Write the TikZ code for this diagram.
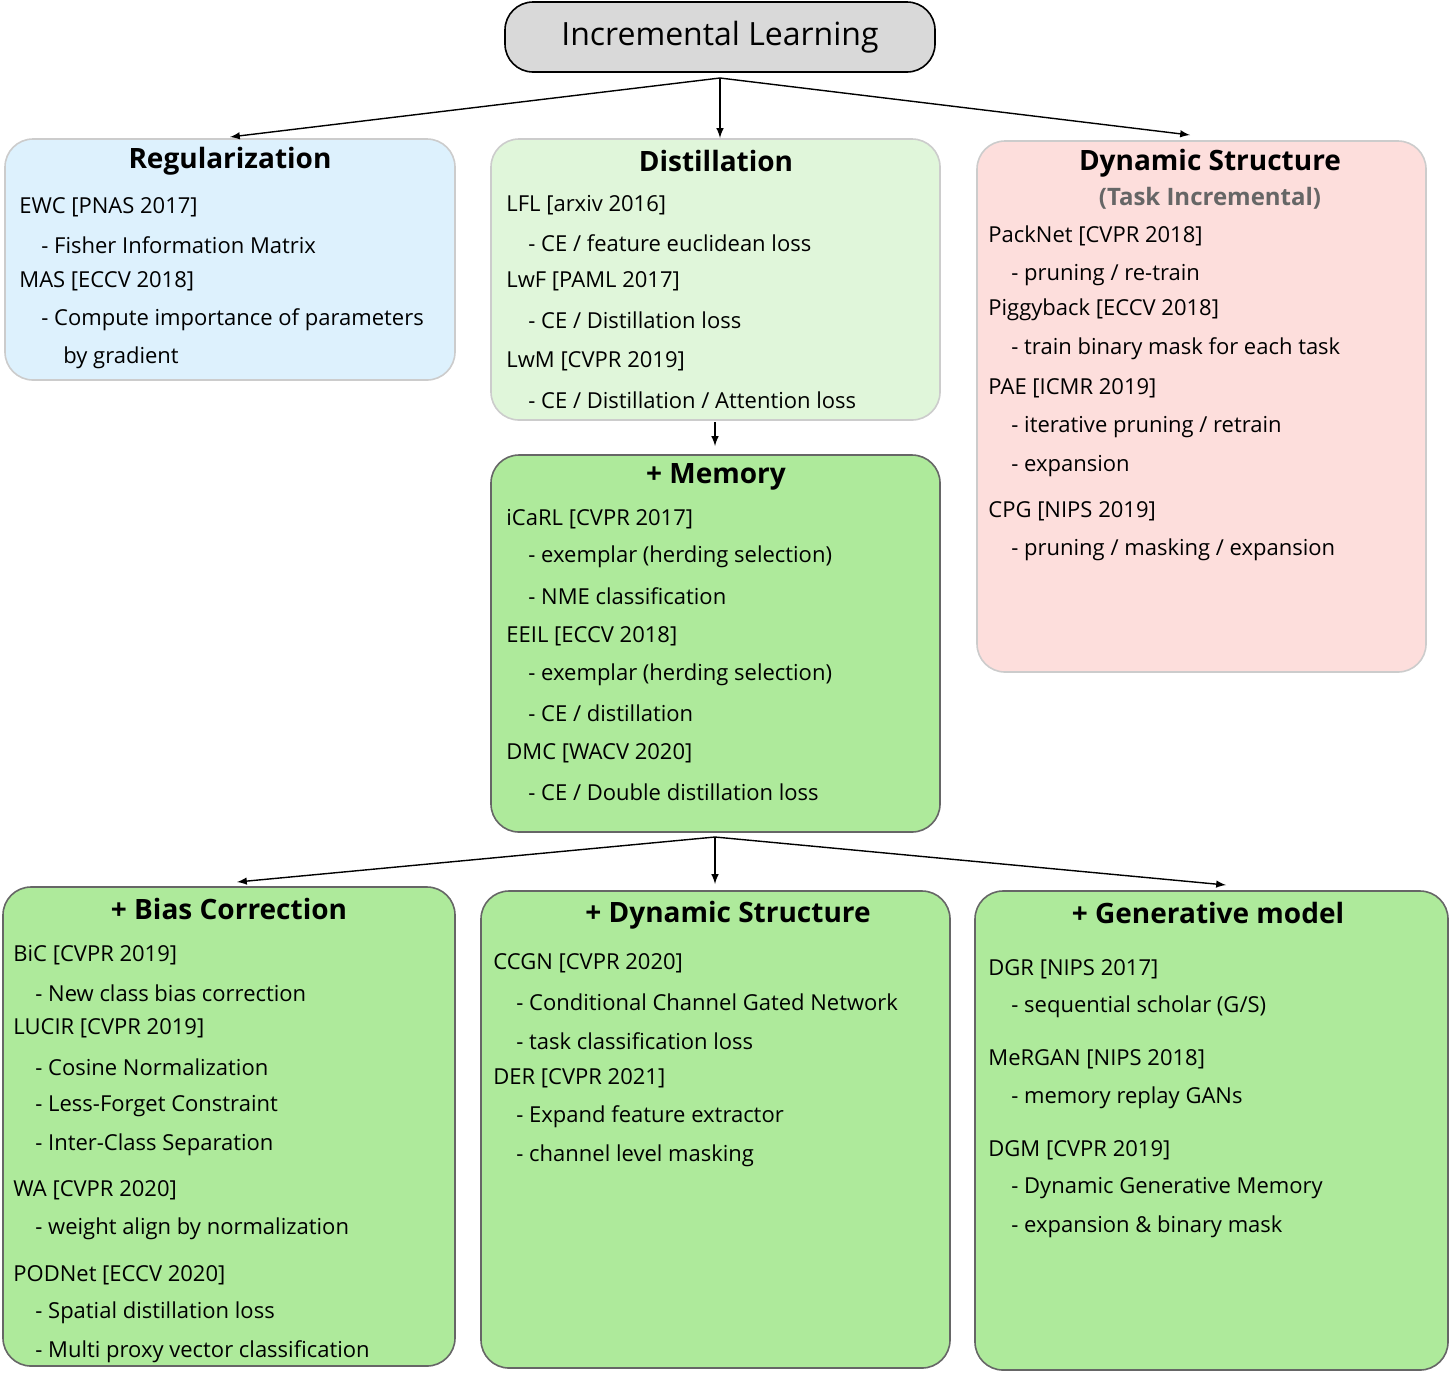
\documentclass[tikz,border=0pt]{standalone}
\usepackage{fontspec}
\setmainfont{Open Sans}
\begin{document}
\begin{tikzpicture}[x=0.5pt,y=-0.5pt,
  box/.style={draw=#1,line width=0.8pt,rounded corners=14pt},
  t/.style={anchor=west,inner sep=0pt,font=\fontsize{11}{13}\selectfont},
  h/.style={anchor=center,inner sep=0pt,font=\fontsize{14}{16}\selectfont\bfseries},
  arr/.style={-latex,line width=0.7pt}]
\useasboundingbox (0,0) rectangle (1450,1378);
\definecolor{regc}{HTML}{DDF1FD}
\definecolor{disc}{HTML}{E0F6DA}
\definecolor{dync}{HTML}{FDDEDC}
\definecolor{memc}{HTML}{AEEA9B}
\definecolor{topc}{HTML}{D9D9D9}
% boxes
\filldraw[box=black,fill=topc] (505,2) rectangle (935,72);
\node[h,font=\fontsize{16}{18}\selectfont] (top) at (720,37) {Incremental Learning};
\filldraw[box=black!20,fill=regc] (5,139) rectangle (455,380);
\filldraw[box=black!20,fill=disc] (491,139) rectangle (940,420);
\filldraw[box=black!20,fill=dync] (977,141) rectangle (1426,672);
\filldraw[box=black!60,fill=memc] (491,455) rectangle (940,832);
\filldraw[box=black!60,fill=memc] (3,887) rectangle (455,1366);
\filldraw[box=black!60,fill=memc] (481,891) rectangle (950,1368);
\filldraw[box=black!60,fill=memc] (975,891) rectangle (1448,1370);
% coordinates
\coordinate (s1) at (720,78);
\coordinate (e1) at (230,137);
\coordinate (e2) at (720,138);
\coordinate (e3) at (1190,135);
\coordinate (s2) at (715,422);
\coordinate (e4) at (715,446);
\coordinate (s3) at (715,837);
\coordinate (e5) at (237,882);
\coordinate (e6) at (715,884);
\coordinate (e7) at (1226,885);
\draw[arr] (s1)--(e1); \draw[arr] (s1)--(e2); \draw[arr] (s1)--(e3);
\draw[arr] (s2)--(e4);
\draw[arr] (s3)--(e5); \draw[arr] (s3)--(e6); \draw[arr] (s3)--(e7);
% Regularization
\node[h] (rh) at (230,161) {Regularization};
\node[t] (r1) at (19,207) {EWC [PNAS 2017]};
\node[t] (r2) at (41,245) {- Fisher Information Matrix};
\node[t] (r3) at (19,281) {MAS [ECCV 2018]};
\node[t] (r4) at (41,320) {- Compute importance of parameters};
\node[t] (r5) at (63,358) {by gradient};
% Distillation
\node[h] (dh) at (716,161) {Distillation};
\node[t] (d1) at (506,205) {LFL [arxiv 2016]};
\node[t] (d2) at (528,243) {- CE / feature euclidean loss};
\node[t] (d3) at (506,281) {LwF [PAML 2017]};
\node[t] (d4) at (528,320) {- CE / Distillation loss};
\node[t] (d5) at (506,361) {LwM [CVPR 2019]};
\node[t] (d6) at (528,400) {- CE / Distillation / Attention loss};
% Dynamic structure
\node[h] (yh) at (1210,163) {Dynamic Structure};
\node[h,font=\fontsize{12}{14}\selectfont\bfseries,text=black!60] (yh2) at (1210,198) {(Task Incremental)};
\node[t] (y1) at (988,236) {PackNet [CVPR 2018]};
\node[t] (y2) at (1011,275) {- pruning / re-train};
\node[t] (y3) at (988,310) {Piggyback [ECCV 2018]};
\node[t] (y4) at (1011,349) {- train binary mask for each task};
\node[t] (y5) at (988,388) {PAE [ICMR 2019]};
\node[t] (y6) at (1011,427) {- iterative pruning / retrain};
\node[t] (y7) at (1011,466) {- expansion};
\node[t] (y8) at (988,511) {CPG [NIPS 2019]};
\node[t] (y9) at (1011,550) {- pruning / masking / expansion};
% Memory
\node[h] (mh) at (716,477) {+ Memory};
\node[t] (m1) at (506,519) {iCaRL [CVPR 2017]};
\node[t] (m2) at (528,557) {- exemplar (herding selection)};
\node[t] (m3) at (528,596) {- NME classification};
\node[t] (m4) at (506,636) {EEIL [ECCV 2018]};
\node[t] (m5) at (528,675) {- exemplar (herding selection)};
\node[t] (m6) at (528,713) {- CE / distillation};
\node[t] (m7) at (506,753) {DMC [WACV 2020]};
\node[t] (m8) at (528,792) {- CE / Double distillation loss};
% Bias correction
\node[h] (bh) at (229,909) {+ Bias Correction};
\node[t] (b1) at (13,955) {BiC [CVPR 2019]};
\node[t] (b2) at (35,993) {- New class bias correction};
\node[t] (b3) at (13,1028) {LUCIR [CVPR 2019]};
\node[t] (b4) at (35,1067) {- Cosine Normalization};
\node[t] (b5) at (35,1106) {- Less-Forget Constraint};
\node[t] (b6) at (35,1145) {- Inter-Class Separation};
\node[t] (b7) at (13,1190) {WA [CVPR 2020]};
\node[t] (b8) at (35,1229) {- weight align by normalization};
\node[t] (b9) at (13,1275) {PODNet [ECCV 2020]};
\node[t] (b10) at (35,1313) {- Spatial distillation loss};
\node[t] (b11) at (35,1352) {- Multi proxy vector classification};
% Dynamic structure 2
\node[h] (sh) at (728,915) {+ Dynamic Structure};
\node[t] (s1t) at (493,963) {CCGN [CVPR 2020]};
\node[t] (s2t) at (516,1002) {- Conditional Channel Gated Network};
\node[t] (s3t) at (516,1041) {- task classification loss};
\node[t] (s4t) at (493,1078) {DER [CVPR 2021]};
\node[t] (s5t) at (516,1117) {- Expand feature extractor};
\node[t] (s6t) at (516,1156) {- channel level masking};
% Generative
\node[h] (gh) at (1208,913) {+ Generative model};
\node[t] (g1) at (988,969) {DGR [NIPS 2017]};
\node[t] (g2) at (1011,1007) {- sequential scholar (G/S)};
\node[t] (g3) at (988,1059) {MeRGAN [NIPS 2018]};
\node[t] (g4) at (1011,1098) {- memory replay GANs};
\node[t] (g5) at (988,1150) {DGM [CVPR 2019]};
\node[t] (g6) at (1011,1188) {- Dynamic Generative Memory};
\node[t] (g7) at (1011,1227) {- expansion \& binary mask};
\end{tikzpicture}
\end{document}
